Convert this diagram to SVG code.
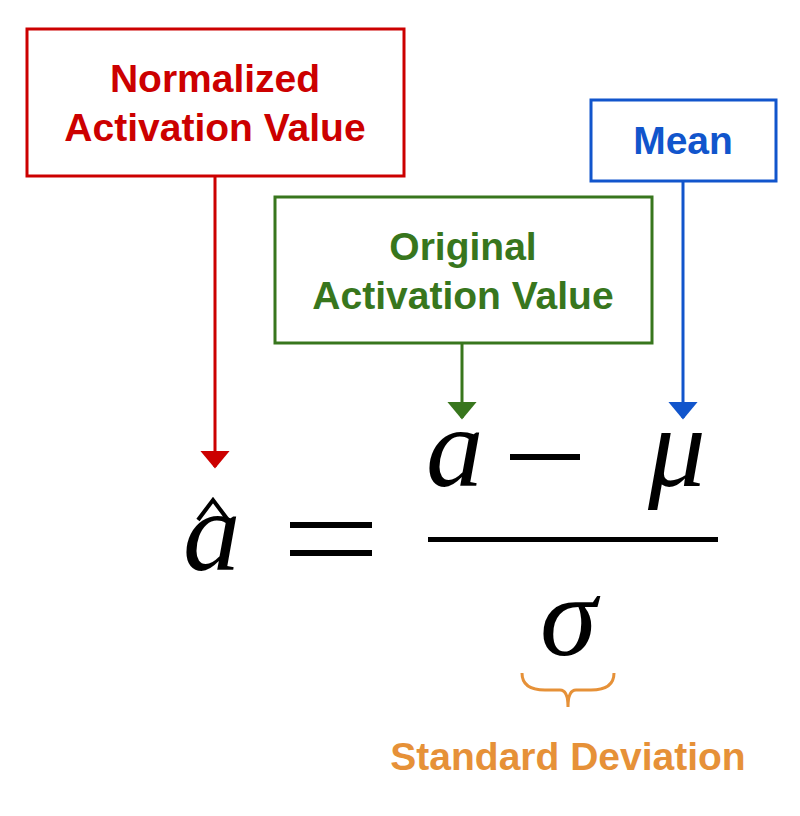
<svg xmlns="http://www.w3.org/2000/svg" width="800" height="816" viewBox="0 0 800 816">
<style>
.lbl{font-family:"Liberation Sans",Arial,sans-serif;font-weight:bold;font-size:39px;text-anchor:middle}
.math{font-family:"Liberation Serif","Times New Roman",serif;font-style:italic;font-size:115px}
.box{fill:#fff;stroke-width:3}
</style>
<defs>
<marker id="r" markerWidth="6" markerHeight="10" refX="5.5" refY="5" orient="auto" markerUnits="strokeWidth"><path d="M0,0 L6,5 L0,10 Z" fill="#cc0000"/></marker>
<marker id="g" markerWidth="6" markerHeight="10" refX="5.5" refY="5" orient="auto" markerUnits="strokeWidth"><path d="M0,0 L6,5 L0,10 Z" fill="#38761d"/></marker>
<marker id="b" markerWidth="6" markerHeight="10" refX="5.5" refY="5" orient="auto" markerUnits="strokeWidth"><path d="M0,0 L6,5 L0,10 Z" fill="#1155cc"/></marker>
</defs>
<rect width="800" height="816" fill="#fff"/>
<g id="connectors" stroke-width="3" fill="none">
<line x1="215" y1="176" x2="215" y2="467" stroke="#cc0000" marker-end="url(#r)"/>
<line x1="462" y1="343" x2="462" y2="418" stroke="#38761d" marker-end="url(#g)"/>
<line x1="683" y1="181" x2="683" y2="418" stroke="#1155cc" marker-end="url(#b)"/>
</g>
<g id="normalized">
<rect class="box" x="27" y="29" width="377" height="147" stroke="#cc0000"/>
<text class="lbl" x="215" y="92" fill="#cc0000">Normalized</text>
<text class="lbl" x="215" y="141" fill="#cc0000">Activation Value</text>
</g>
<g id="original">
<rect class="box" x="275" y="197" width="377" height="146" stroke="#38761d"/>
<text class="lbl" x="463" y="260" fill="#38761d">Original</text>
<text class="lbl" x="463" y="309" fill="#38761d">Activation Value</text>
</g>
<g id="mean">
<rect class="box" x="591" y="100" width="185" height="81" stroke="#1155cc"/>
<text class="lbl" x="683" y="154" fill="#1155cc">Mean</text>
</g>
<g id="formula" fill="#000">
<text class="math" x="183" y="570">a</text>
<path d="M198,520 L213,500 L228,520" fill="none" stroke="#000" stroke-width="4"/>
<rect x="290" y="522" width="82" height="6"/>
<rect x="290" y="550" width="82" height="6"/>
<text class="math" x="426" y="486">a</text>
<rect x="510" y="454" width="70" height="6"/>
<text class="math" x="648" y="486" font-family="DejaVu Serif,serif" font-size="105">μ</text>
<rect x="428" y="537" width="290" height="5"/>
<text class="math" x="540" y="655" font-family="DejaVu Serif,serif" font-size="110">σ</text>
</g>
<g id="stddev">
<path d="M522,673 Q522,690 545,690 L560,690 Q568,690 568,707 Q568,690 576,690 L591,690 Q614,690 614,673" fill="none" stroke="#e69138" stroke-width="3"/>
<text class="lbl" x="568" y="770" fill="#e69138">Standard Deviation</text>
</g>
</svg>
